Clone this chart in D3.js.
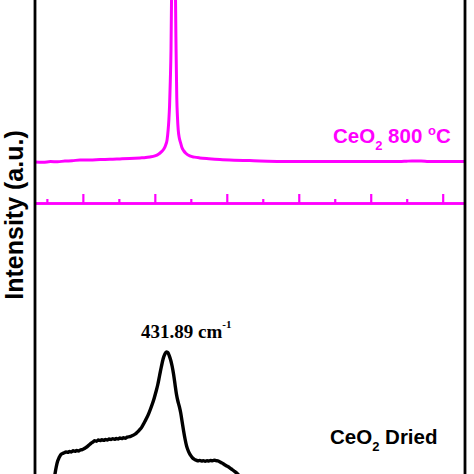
<!DOCTYPE html>
<html>
<head>
<meta charset="utf-8">
<script src="https://cdn.jsdelivr.net/npm/d3@7"></script>
<style>
  body { margin: 0; background: #fff; }
  svg { display: block; }
</style>
</head>
<body>
<svg id="mount" width="474" height="474"></svg>
<script>
var colorHot = "#ff00ff";
var colorDried = "#000000";

// Raman shift (cm-1) of the axis ticks
var majorTicks = [200, 400, 600, 800, 1000, 1200];
var minorTicks = [100, 300, 500, 700, 900, 1100];

// CeO2 800 C spectrum (upper panel)
var hotShift = [67, 90, 110, 130, 150, 170, 192, 220, 248, 275, 303, 330, 359, 375, 386, 400, 410, 418, 425, 430, 434, 437, 439, 441, 443, 445, 447, 449, 451, 453, 455, 457, 459, 461, 463, 465, 468, 471, 475, 480, 486, 497, 510, 525, 550, 581, 620, 664, 692, 740, 803, 900, 1000, 1081, 1100, 1115, 1140, 1160, 1200, 1262];
var hotIntensity = [202, 201, 204, 203, 207, 208, 212, 212, 214, 215, 217, 219, 222, 224, 227, 232, 240, 252, 266, 285, 310, 360, 409, 480, 600, 760, 1100, 1800, 2600, 2600, 1800, 1100, 760, 520, 420, 360, 320, 300, 275, 258, 245, 232, 226, 222, 218, 214, 211, 209, 207, 205, 204, 204, 204, 204, 206, 207, 207, 205, 204, 204];

// CeO2 dried spectrum (lower panel)
var driedShift = [117, 123, 126, 130, 134, 138, 143, 148, 153, 158, 163, 168, 173, 178, 183, 188, 193, 198, 203, 208, 213, 218, 223, 228, 233, 238, 243, 248, 253, 258, 263, 268, 273, 278, 283, 288, 293, 298, 303, 308, 313, 318, 323, 328, 333, 338, 343, 348, 353, 358, 363, 368, 373, 378, 383, 388, 393, 398, 403, 408, 413, 418, 423, 428, 432, 436, 440, 444, 448, 452, 456, 460, 464, 468, 472, 476, 480, 484, 488, 492, 496, 500, 505, 510, 515, 520, 525, 530, 535, 540, 545, 550, 555, 560, 565, 570, 575, 580, 585, 590, 595, 600, 605, 610, 615, 620, 625, 630, 640, 650, 660, 670];
var driedIntensity = [50, 135, 165, 195, 212, 225, 232, 236, 240, 238, 243, 240, 246, 243, 248, 245, 250, 252, 256, 262, 268, 276, 284, 290, 296, 294, 300, 297, 302, 298, 303, 300, 305, 302, 306, 303, 308, 305, 310, 307, 312, 309, 314, 316, 318, 322, 327, 333, 342, 352, 362, 378, 395, 412, 432, 455, 480, 508, 540, 575, 620, 665, 705, 730, 740, 738, 722, 700, 670, 630, 580, 530, 495, 468, 435, 390, 345, 305, 272, 250, 234, 222, 210, 203, 199, 196, 198, 195, 197, 194, 197, 195, 198, 196, 199, 197, 196, 191, 186, 181, 175, 170, 165, 158, 152, 145, 138, 130, 110, 90, 65, 40];

var svg = d3.select("#mount");
var left = 35, right = 465;

var x = d3.scaleLinear().domain([67, 1262]).range([left, right]);
var yHot = d3.scaleLinear().domain([0, 1000]).range([203, 0]);
var yDried = d3.scaleLinear().domain([0, 1000]).range([500, 300]);

svg.append("defs").append("clipPath").attr("id", "plot")
  .append("rect").attr("x", left).attr("y", -10)
  .attr("width", right - left).attr("height", 500);

function series(xs, ys) {
  return xs.map(function(d, i) { return { s: d, v: ys[i] }; });
}

var plot = svg.append("g").attr("clip-path", "url(#plot)");

var lineHot = d3.line()
  .curve(d3.curveMonotoneX)
  .x(function(d) { return x(d.s); })
  .y(function(d) { return yHot(d.v); });

var lineDried = d3.line()
  .curve(d3.curveMonotoneX)
  .x(function(d) { return x(d.s); })
  .y(function(d) { return yDried(d.v); });

plot.append("path")
  .datum(series(hotShift, hotIntensity))
  .attr("fill", "none")
  .attr("stroke", colorHot)
  .attr("stroke-width", 3)
  .attr("stroke-linejoin", "round")
  .attr("d", lineHot);

plot.append("path")
  .datum(series(driedShift, driedIntensity))
  .attr("fill", "none")
  .attr("stroke", colorDried)
  .attr("stroke-width", 3.4)
  .attr("stroke-linejoin", "round")
  .attr("d", lineDried);

// magenta bottom axis of the upper panel, ticks pointing in
var axisMajor = svg.append("g")
  .attr("transform", "translate(0," + yHot(0) + ")")
  .call(d3.axisTop(x).tickValues(majorTicks).tickSize(9).tickSizeOuter(0).tickFormat(""));
var axisMinor = svg.append("g")
  .attr("transform", "translate(0," + yHot(0) + ")")
  .call(d3.axisTop(x).tickValues(minorTicks).tickSize(4).tickSizeOuter(0).tickFormat(""));
[axisMajor, axisMinor].forEach(function(a) {
  a.select(".domain").attr("stroke", colorHot).attr("stroke-width", 2.6);
  a.selectAll(".tick line").attr("stroke", colorHot).attr("stroke-width", 2.2);
});

// frame
svg.append("rect")
  .attr("x", left).attr("y", -10)
  .attr("width", right - left).attr("height", 500)
  .attr("fill", "none")
  .attr("stroke", "#000")
  .attr("stroke-width", 2.8);

var sans = "'Liberation Sans', Arial, sans-serif";

svg.append("text")
  .attr("transform", "translate(23,215) rotate(-90)")
  .attr("text-anchor", "middle")
  .style("font-family", sans)
  .style("font-weight", "bold")
  .style("font-size", "25px")
  .text("Intensity (a.u.)");

var hotLabel = svg.append("text")
  .attr("x", 333).attr("y", 143)
  .attr("fill", colorHot)
  .style("font-family", sans)
  .style("font-weight", "bold")
  .style("font-size", "20.5px");
hotLabel.append("tspan").text("CeO");
hotLabel.append("tspan").attr("dy", 7).style("font-size", "13px").text("2");
hotLabel.append("tspan").attr("dy", -7).text(" 800 ");
hotLabel.append("tspan").attr("dy", -8).style("font-size", "13px").text("o");
hotLabel.append("tspan").attr("dy", 8).text("C");

var driedLabel = svg.append("text")
  .attr("x", 330).attr("y", 444)
  .attr("fill", colorDried)
  .style("font-family", sans)
  .style("font-weight", "bold")
  .style("font-size", "20.5px");
driedLabel.append("tspan").text("CeO");
driedLabel.append("tspan").attr("dy", 7).style("font-size", "13px").text("2");
driedLabel.append("tspan").attr("dy", -7).text(" Dried");

var peakLabel = svg.append("text")
  .attr("x", 141).attr("y", 338)
  .attr("fill", "#000")
  .style("font-family", "'Liberation Serif', 'Times New Roman', serif")
  .style("font-weight", "bold")
  .style("font-size", "19px");
peakLabel.append("tspan").text("431.89 cm");
peakLabel.append("tspan").attr("dy", -10).style("font-size", "11px").text("-1");
</script>
</body>
</html>
